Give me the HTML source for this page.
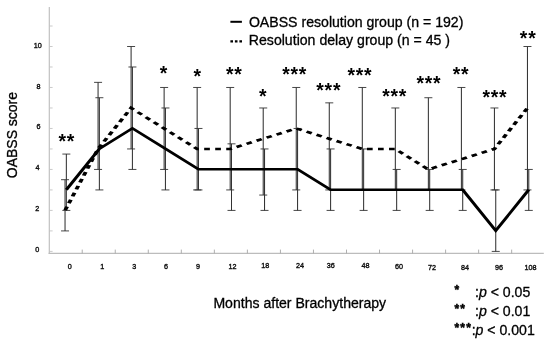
<!DOCTYPE html>
<html lang="en"><head><meta charset="utf-8"><title>OABSS score chart</title>
<style>html,body{margin:0;padding:0;background:#fff}svg{display:block}</style></head>
<body>
<svg width="550" height="344" viewBox="0 0 550 344">
<rect width="550" height="344" fill="#fff"/>
<path d="M49.3 7.1V253.9" stroke="#bebebe" stroke-width="1.15" fill="none"/><path d="M48.599999999999994 253.4H543.8" stroke="#bcbcbc" stroke-width="1.1" fill="none"/>
<g stroke="#b4b4b4" stroke-width="0.9" fill="none">
<path stroke="#c4c4c4" d="M49.3 251.40h3.3"/>
<path stroke="#c4c4c4" d="M49.3 230.91h3.3"/>
<path stroke="#c4c4c4" d="M49.3 210.42h3.3"/>
<path stroke="#c4c4c4" d="M49.3 189.93h3.3"/>
<path stroke="#c4c4c4" d="M49.3 169.44h3.3"/>
<path stroke="#c4c4c4" d="M49.3 148.95h3.3"/>
<path stroke="#c4c4c4" d="M49.3 128.46h3.3"/>
<path stroke="#c4c4c4" d="M49.3 107.97h3.3"/>
<path stroke="#c4c4c4" d="M49.3 87.48h3.3"/>
<path stroke="#c4c4c4" d="M49.3 66.99h3.3"/>
<path stroke="#c4c4c4" d="M49.3 46.50h3.3"/>
<path stroke="#c4c4c4" d="M49.3 26.01h3.3"/>
<path stroke="#a6a6a6" d="M82.22 253.4v-3.8"/>
<path stroke="#a6a6a6" d="M115.25 253.4v-3.8"/>
<path stroke="#a6a6a6" d="M148.29 253.4v-3.8"/>
<path stroke="#a6a6a6" d="M181.32 253.4v-3.8"/>
<path stroke="#a6a6a6" d="M214.36 253.4v-3.8"/>
<path stroke="#a6a6a6" d="M247.39 253.4v-3.8"/>
<path stroke="#a6a6a6" d="M280.43 253.4v-3.8"/>
<path stroke="#a6a6a6" d="M313.46 253.4v-3.8"/>
<path stroke="#a6a6a6" d="M346.50 253.4v-3.8"/>
<path stroke="#a6a6a6" d="M379.53 253.4v-3.8"/>
<path stroke="#a6a6a6" d="M412.57 253.4v-3.8"/>
<path stroke="#a6a6a6" d="M445.60 253.4v-3.8"/>
<path stroke="#a6a6a6" d="M478.64 253.4v-3.8"/>
<path stroke="#a6a6a6" d="M511.67 253.4v-3.8"/>
</g>
<path d="M65.04 179.69V230.91" stroke="#333" stroke-width="1.05" fill="none"/><path d="M61.04 179.69h8.0M61.04 230.91h8.0" stroke="#333" stroke-width="0.9" fill="none"/>
<path d="M66.35 154.07V210.42" stroke="#333" stroke-width="1.05" fill="none"/><path d="M62.35 154.07h8.0M62.35 210.42h8.0" stroke="#333" stroke-width="0.9" fill="none"/>
<path d="M98.07 82.36V169.44" stroke="#333" stroke-width="1.05" fill="none"/><path d="M94.07 82.36h8.0M94.07 169.44h8.0" stroke="#333" stroke-width="0.9" fill="none"/>
<path d="M99.38 97.73V189.93" stroke="#333" stroke-width="1.05" fill="none"/><path d="M95.38 97.73h8.0M95.38 189.93h8.0" stroke="#333" stroke-width="0.9" fill="none"/>
<path d="M131.10 46.50V148.95" stroke="#333" stroke-width="1.05" fill="none"/><path d="M127.10 46.50h8.0M127.10 148.95h8.0" stroke="#333" stroke-width="0.9" fill="none"/>
<path d="M132.41 66.99V169.44" stroke="#333" stroke-width="1.05" fill="none"/><path d="M128.41 66.99h8.0M128.41 169.44h8.0" stroke="#333" stroke-width="0.9" fill="none"/>
<path d="M164.13 87.48V169.44" stroke="#333" stroke-width="1.05" fill="none"/><path d="M160.13 87.48h8.0M160.13 169.44h8.0" stroke="#333" stroke-width="0.9" fill="none"/>
<path d="M165.44 107.97V189.93" stroke="#333" stroke-width="1.05" fill="none"/><path d="M161.44 107.97h8.0M161.44 189.93h8.0" stroke="#333" stroke-width="0.9" fill="none"/>
<path d="M197.16 87.48V189.93" stroke="#333" stroke-width="1.05" fill="none"/><path d="M193.16 87.48h8.0M193.16 189.93h8.0" stroke="#333" stroke-width="0.9" fill="none"/>
<path d="M198.47 128.46V189.93" stroke="#333" stroke-width="1.05" fill="none"/><path d="M194.47 128.46h8.0M194.47 189.93h8.0" stroke="#333" stroke-width="0.9" fill="none"/>
<path d="M230.19 87.48V189.93" stroke="#333" stroke-width="1.05" fill="none"/><path d="M226.19 87.48h8.0M226.19 189.93h8.0" stroke="#333" stroke-width="0.9" fill="none"/>
<path d="M231.50 143.83V210.42" stroke="#333" stroke-width="1.05" fill="none"/><path d="M227.50 143.83h8.0M227.50 210.42h8.0" stroke="#333" stroke-width="0.9" fill="none"/>
<path d="M263.22 107.97V195.05" stroke="#333" stroke-width="1.05" fill="none"/><path d="M259.22 107.97h8.0M259.22 195.05h8.0" stroke="#333" stroke-width="0.9" fill="none"/>
<path d="M264.53 148.95V210.42" stroke="#333" stroke-width="1.05" fill="none"/><path d="M260.53 148.95h8.0M260.53 210.42h8.0" stroke="#333" stroke-width="0.9" fill="none"/>
<path d="M296.25 87.48V189.93" stroke="#333" stroke-width="1.05" fill="none"/><path d="M292.25 87.48h8.0M292.25 189.93h8.0" stroke="#333" stroke-width="0.9" fill="none"/>
<path d="M297.56 128.46V210.42" stroke="#333" stroke-width="1.05" fill="none"/><path d="M293.56 128.46h8.0M293.56 210.42h8.0" stroke="#333" stroke-width="0.9" fill="none"/>
<path d="M329.28 102.85V189.93" stroke="#333" stroke-width="1.05" fill="none"/><path d="M325.28 102.85h8.0M325.28 189.93h8.0" stroke="#333" stroke-width="0.9" fill="none"/>
<path d="M330.59 148.95V210.42" stroke="#333" stroke-width="1.05" fill="none"/><path d="M326.59 148.95h8.0M326.59 210.42h8.0" stroke="#333" stroke-width="0.9" fill="none"/>
<path d="M362.31 87.48V189.93" stroke="#333" stroke-width="1.05" fill="none"/><path d="M358.31 87.48h8.0M358.31 189.93h8.0" stroke="#333" stroke-width="0.9" fill="none"/>
<path d="M363.62 148.95V210.42" stroke="#333" stroke-width="1.05" fill="none"/><path d="M359.62 148.95h8.0M359.62 210.42h8.0" stroke="#333" stroke-width="0.9" fill="none"/>
<path d="M395.34 107.97V189.93" stroke="#333" stroke-width="1.05" fill="none"/><path d="M391.34 107.97h8.0M391.34 189.93h8.0" stroke="#333" stroke-width="0.9" fill="none"/>
<path d="M396.65 169.44V210.42" stroke="#333" stroke-width="1.05" fill="none"/><path d="M392.65 169.44h8.0M392.65 210.42h8.0" stroke="#333" stroke-width="0.9" fill="none"/>
<path d="M428.37 97.73V189.93" stroke="#333" stroke-width="1.05" fill="none"/><path d="M424.37 97.73h8.0M424.37 189.93h8.0" stroke="#333" stroke-width="0.9" fill="none"/>
<path d="M429.68 169.44V210.42" stroke="#333" stroke-width="1.05" fill="none"/><path d="M425.68 169.44h8.0M425.68 210.42h8.0" stroke="#333" stroke-width="0.9" fill="none"/>
<path d="M461.40 87.48V189.93" stroke="#333" stroke-width="1.05" fill="none"/><path d="M457.40 87.48h8.0M457.40 189.93h8.0" stroke="#333" stroke-width="0.9" fill="none"/>
<path d="M462.71 169.44V210.42" stroke="#333" stroke-width="1.05" fill="none"/><path d="M458.71 169.44h8.0M458.71 210.42h8.0" stroke="#333" stroke-width="0.9" fill="none"/>
<path d="M494.43 107.97V189.93" stroke="#333" stroke-width="1.05" fill="none"/><path d="M490.43 107.97h8.0M490.43 189.93h8.0" stroke="#333" stroke-width="0.9" fill="none"/>
<path d="M495.74 189.93V251.40" stroke="#333" stroke-width="1.05" fill="none"/><path d="M491.74 189.93h8.0M491.74 251.40h8.0" stroke="#333" stroke-width="0.9" fill="none"/>
<path d="M527.46 46.50V189.93" stroke="#333" stroke-width="1.05" fill="none"/><path d="M523.46 46.50h8.0M523.46 189.93h8.0" stroke="#333" stroke-width="0.9" fill="none"/>
<path d="M528.77 169.44V210.42" stroke="#333" stroke-width="1.05" fill="none"/><path d="M524.77 169.44h8.0M524.77 210.42h8.0" stroke="#333" stroke-width="0.9" fill="none"/>
<g transform="scale(1.5 1)"><polyline points="43.360,210.42 65.380,148.95 87.400,107.97 109.420,128.46 131.440,148.95 153.460,148.95 175.480,138.71 197.500,128.46 219.520,138.71 241.540,148.95 263.560,148.95 285.580,169.44 307.600,159.19 329.620,148.95 351.640,107.97" fill="none" stroke="#000" stroke-width="2.6" stroke-dasharray="3.8 3.55" stroke-dashoffset="7.1" stroke-linejoin="miter"/></g>
<g transform="scale(1.3 1)"><polyline points="51.038,189.73 76.446,148.75 101.854,128.26 127.262,148.75 152.669,169.24 178.077,169.24 203.485,169.24 228.892,169.24 254.300,189.73 279.708,189.73 305.115,189.73 330.523,189.73 355.931,189.73 381.338,230.71 406.746,189.73" fill="none" stroke="#000" stroke-width="2.5" stroke-linejoin="miter"/></g>
<g font-family="'Liberation Sans', Arial, Helvetica, sans-serif" font-size="7.2" fill="#111" stroke="#111" stroke-width="0.38" text-anchor="middle">
<text text-anchor="end" x="39.3" y="251.6">0</text>
<text text-anchor="end" x="39.3" y="210.6">2</text>
<text text-anchor="end" x="39.6" y="169.8">4</text>
<text text-anchor="end" x="40.6" y="129.4">6</text>
<text text-anchor="end" x="40.6" y="88.9">8</text>
<text text-anchor="end" x="41.7" y="47.9">10</text>
<text x="69.8" y="269.2">0</text>
<text x="102.3" y="269.2">1</text>
<text x="134.3" y="268.8">3</text>
<text x="165.9" y="269.1">6</text>
<text x="197.9" y="269.3">9</text>
<text x="232.5" y="269">12</text>
<text x="265.3" y="267.8">18</text>
<text x="300.1" y="267.8">24</text>
<text x="330.7" y="267.8">36</text>
<text x="365.5" y="268.0">48</text>
<text x="399" y="268.7">60</text>
<text x="432" y="269.9">72</text>
<text x="465" y="270">84</text>
<text x="499" y="270">96</text>
<text x="530.5" y="270">108</text>
</g>
<g font-family="'Liberation Sans', Arial, Helvetica, sans-serif" font-size="14.1" fill="#000" stroke="#000" stroke-width="0.3">
<text x="248.9" y="26.9" font-size="14.11">OABSS resolution group (n = 192)</text>
<text x="248.8" y="45.4" font-size="14.12">Resolution delay group (n = 45 )</text>
<text x="213.4" y="307.7" font-size="14.07">Months after Brachytherapy</text>
<text transform="translate(16.5 178.2) rotate(-90) scale(0.992 1.05)">OABSS score</text>
<text x="475" y="297">:<tspan font-style="italic">p</tspan> &lt; 0.05</text>
<text x="475" y="315.7">:<tspan font-style="italic">p</tspan> &lt; 0.01</text>
<text x="471.7" y="334.7">:<tspan font-style="italic">p</tspan> &lt; 0.001</text>
</g>
<g font-family="'Liberation Sans', Arial, Helvetica, sans-serif" font-size="12" font-weight="bold" fill="#000" stroke="#000" stroke-width="0.45" letter-spacing="1.3">
<text x="454.4" y="294.3">*</text>
<text x="454.4" y="312.9">**</text>
<text x="454.4" y="331.7">***</text>
</g>
<path d="M230.4 21.8H241.9" stroke="#000" stroke-width="2"/>
<path d="M230.4 41.4H243" stroke="#000" stroke-width="2.4" stroke-dasharray="2.6 1.9"/>
<g font-family="'Liberation Sans', Arial, Helvetica, sans-serif" font-size="19.4" font-weight="bold" fill="#000" text-anchor="middle" letter-spacing="0.75">
<text x="66.75" y="148.1">**</text>
<text x="163.85" y="80.4">*</text>
<text x="197.75" y="82.7">*</text>
<text x="234.25" y="80.9">**</text>
<text x="263.05" y="103.2">*</text>
<text x="294.65" y="80.6">***</text>
<text x="328.75" y="97.4">***</text>
<text x="359.95" y="82.2">***</text>
<text x="394.65" y="102.7">***</text>
<text x="428.95" y="90.4">***</text>
<text x="461.05" y="81.4">**</text>
<text x="494.85" y="103.7">***</text>
<text x="528.15" y="44.8">**</text>
</g>
</svg>
</body></html>
